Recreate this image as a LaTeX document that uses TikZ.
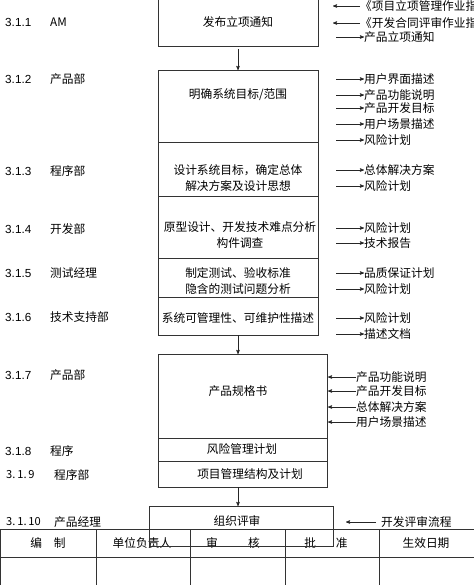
\documentclass[tikz,border=0pt]{standalone}
\usepackage{fontspec}
\setmainfont{Liberation Sans}
\newfontfamily\cjk{Noto Sans CJK SC}
\usetikzlibrary{arrows}

\begin{document}
\begin{tikzpicture}[x=0.03cm,y=-0.03cm,>=stealth',font=\fontsize{10}{13.6}\selectfont]
  \tikzstyle{stepbox}=[rectangle,draw=black!80,inner sep=0pt,outer sep=0pt,minimum width=4.8cm]
  \tikzstyle{wide box}=[stepbox,minimum width=5.07cm]
  \tikzstyle{steptext}=[inner sep=0pt,font=\cjk\fontsize{10}{13.6}\selectfont,align=center]
  \tikzstyle{outtext}=[steptext,anchor=west]
  \tikzstyle{numtext}=[anchor=west,inner sep=0pt]
  \tikzstyle{flow}=[->,black!85]

  \clip (0,0) rectangle (474,585);

  % table at the foot
  \draw[black!80,line width=0.8pt] (0,529) rectangle (474,585);
  \draw[black!80] (0,557) -- (474,557);
  \foreach \x in {96,190,285,379}
    \draw[black!80] (\x,529) -- (\x,585);
  \node[steptext] (h1) at (48,543) {编\hspace{1em}制};
  \node[steptext] (h2) at (142,543) {单位负责人};
  \node[steptext] (h3) at (233,543) {审\hspace{2.6em}核};
  \node[steptext] (h4) at (326,543) {批\hspace{1.7em}准};
  \node[steptext] (h5) at (426,543) {生效日期};

  % process boxes
  \node[stepbox,minimum height=1.98cm] (s1) at (238,13) {};
  \node[stepbox,minimum height=2.16cm] (s2) at (238,106) {};
  \node[stepbox,minimum height=1.62cm] (s3) at (238,169) {};
  \node[stepbox,minimum height=1.86cm] (s4) at (238,227) {};
  \node[stepbox,minimum height=1.17cm] (s5) at (238,277.5) {};
  \node[stepbox,minimum height=1.14cm] (s6) at (238,316) {};
  \node[wide box,minimum height=2.52cm] (s7) at (242.5,396) {};
  \node[wide box,minimum height=0.69cm] (s8) at (242.5,449.5) {};
  \node[wide box,minimum height=0.78cm] (s9) at (242.5,474) {};
  \node[stepbox,minimum width=5.52cm,minimum height=1.2cm] (s10) at (241,526) {};

  \node[steptext] (t1) at (238,22) {发布立项通知};
  \node[steptext] (t2) at (238,95) {明确系统目标/范围};
  \node[steptext] (t3) at (238,178) {设计系统目标，确定总体\\解决方案及设计思想};
  \node[steptext] (t4) at (240,235) {原型设计、开发技术难点分析\\构件调查};
  \node[steptext] (t5) at (238,281) {制定测试、验收标准\\隐含的测试问题分析};
  \node[steptext] (t6) at (238,318) {系统可管理性、可维护性描述};
  \node[steptext] (t7) at (238,391) {产品规格书};
  \node[steptext] (t8) at (242,449) {风险管理计划};
  \node[steptext] (t9) at (250,474) {项目管理结构及计划};
  \node[steptext] (t10) at (237,521) {组织评审};

  % flow between the boxes
  \draw[flow,shorten <=0.1cm] (s1.south) -- (s2.north);
  \draw[flow] (s6.south) -- (s6.south |- s7.north);
  \draw[flow] (s9.south -| s1.south) -- (s10.north -| s1.south);

  % departments
  \foreach \y/\n/\d [count=\i] in {22/3.1.1/AM,79/3.1.2/产品部,171/3.1.3/程序部,
      229/3.1.4/开发部,273/3.1.5/测试经理,317/3.1.6/技术支持部,375/3.1.7/产品部,
      451/3.1.8/程序} {
    \node[numtext] (n\i) at (5,\y) {\n};
    \node[numtext,font=\cjk\fontsize{10}{12}\selectfont] (d\i) at (50,\y) {\d};
  }
  \node[numtext,font=\cjk\fontsize{9.5}{12}\selectfont] (n9) at (6,475) {3.\,1.\,9};
  \node[numtext,font=\cjk\fontsize{10}{12}\selectfont] (d9) at (54,475) {程序部};
  \node[numtext,font=\cjk\fontsize{9.5}{12}\selectfont] (n10) at (6,522) {3.\,1.\,10};
  \node[numtext,font=\cjk\fontsize{10}{12}\selectfont] (d10) at (54,522) {产品经理};

  % outputs
  \foreach \y/\t [count=\i] in {37/产品立项通知,79/用户界面描述,95/产品功能说明,
      108/产品开发目标,124/用户场景描述,140/风险计划,170/总体解决方案,186/风险计划,
      228/风险计划,243/技术报告,273/品质保证计划,289/风险计划,318/风险计划,334/描述文档} {
    \coordinate (p\i) at (336,\y);
    \node[outtext] (o\i) at (364,\y) {\t};
    \draw[flow] (p\i) -- (o\i);
  }

  % inputs
  \foreach \y/\t [count=\i] in {6/《项目立项管理作业指导书》,23/《开发合同评审作业指导书》} {
    \coordinate (q\i) at (333,\y);
    \node[outtext] (a\i) at (360,\y) {\t};
    \draw[flow] (a\i) -- (q\i);
  }
  \foreach \y/\t [count=\i] in {377/产品功能说明,391/产品开发目标,407/总体解决方案,422/用户场景描述} {
    \coordinate (r\i) at (328,\y);
    \node[outtext] (b\i) at (356,\y) {\t};
    \draw[flow] (b\i) -- (r\i);
  }
  \coordinate (r0) at (346,522);
  \node[outtext] (b0) at (381,522) {开发评审流程};
  \draw[flow,shorten <=0.15cm] (b0) -- (r0);
\end{tikzpicture}
\end{document}
